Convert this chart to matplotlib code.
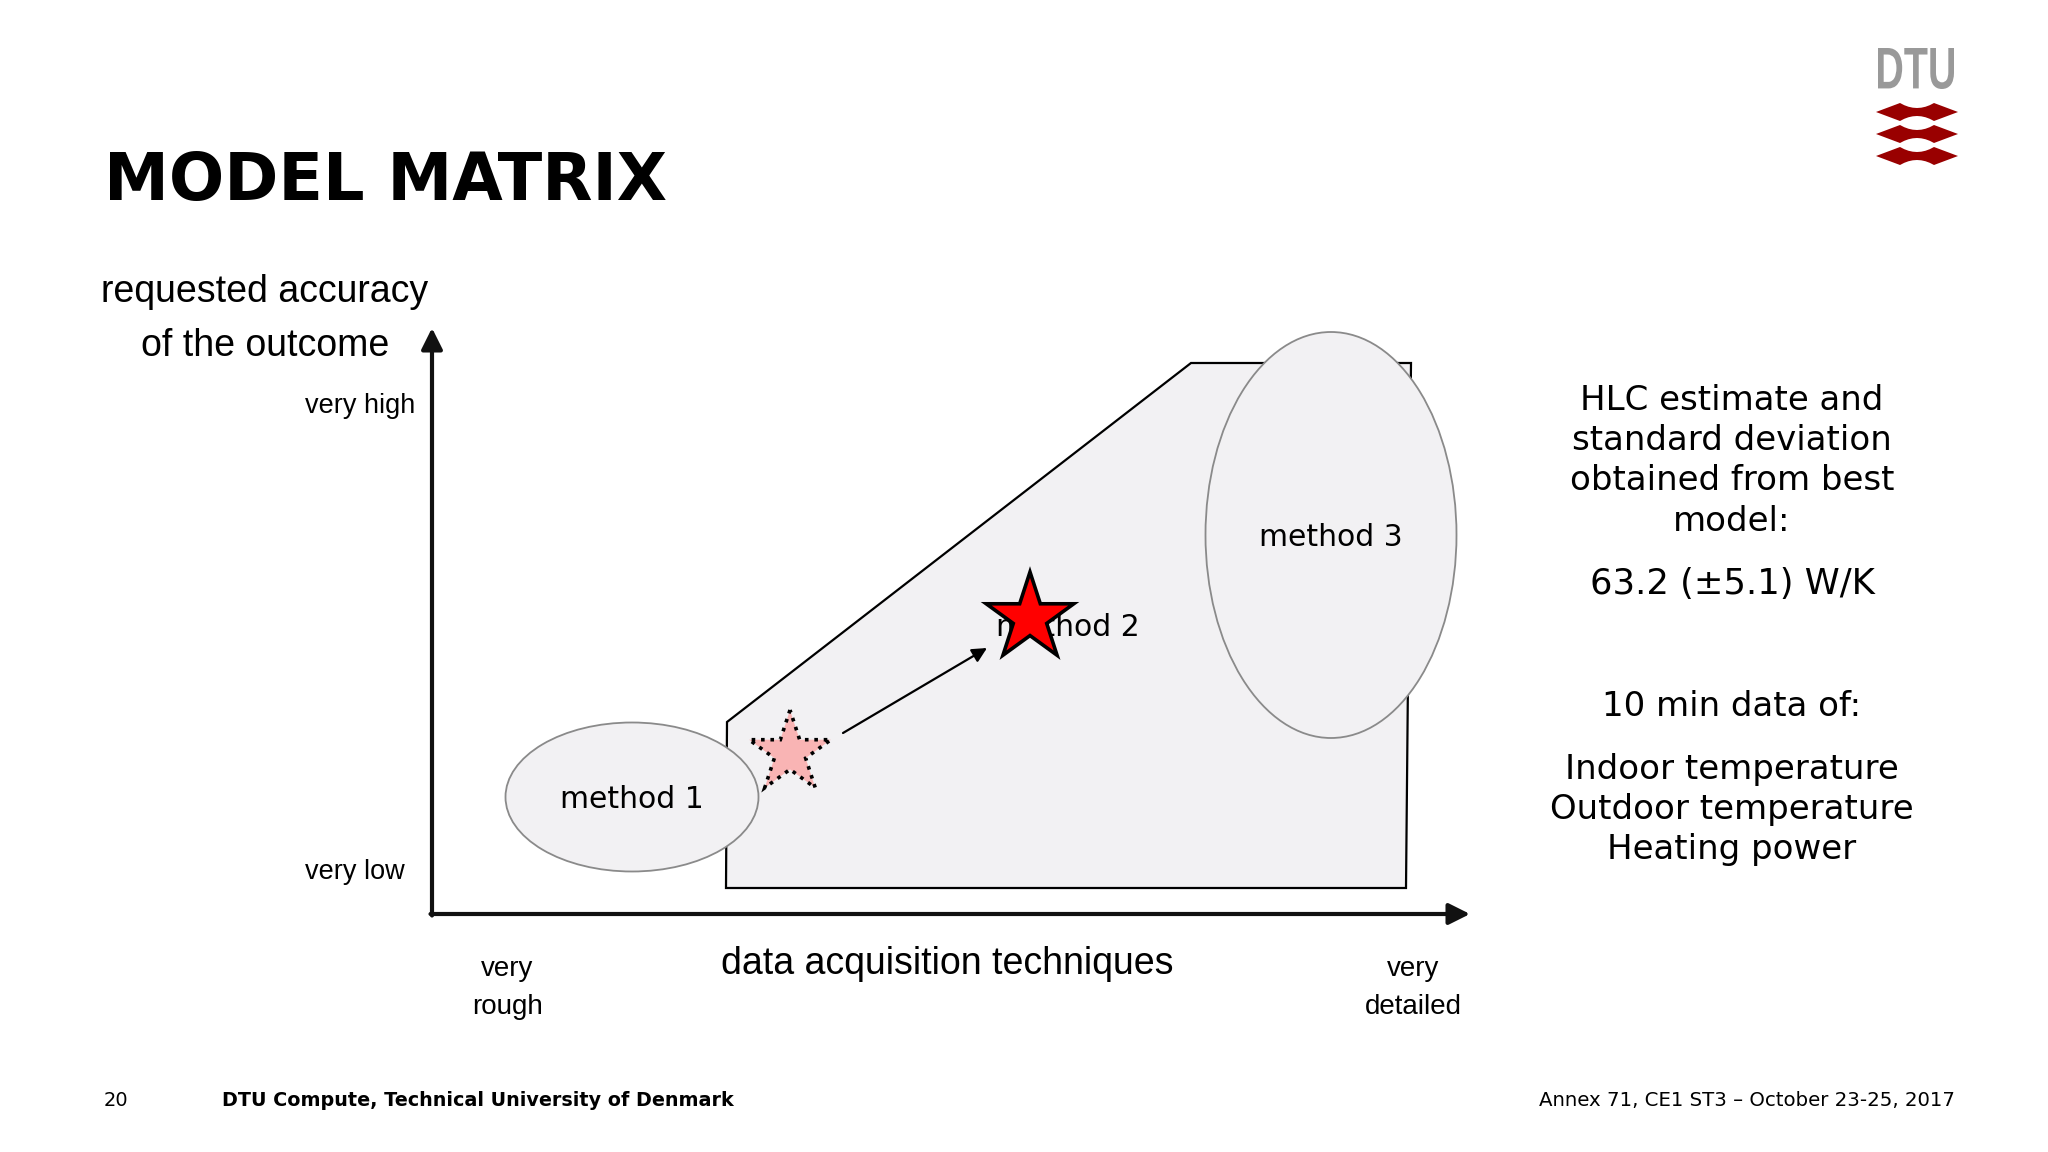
import numpy as np
import matplotlib
matplotlib.use("Agg")
import matplotlib.pyplot as plt
from matplotlib.patches import Polygon, Ellipse, PathPatch
from matplotlib.textpath import TextPath
from matplotlib.font_manager import FontProperties
from matplotlib.transforms import Affine2D

# slide canvas is laid out in pixel units (2048 x 1152)
W, H = 2048, 1152

# diagram content
region_xy = [(727, 722), (1191, 363), (1411, 363), (1406, 888), (726, 888)]
method_names = ["method 1", "method 2", "method 3"]
method_pos = [(632, 800), (1068, 627), (1331, 537)]
ellipse_centers = [(632, 797), (1331, 535)]
ellipse_sizes = [(253, 149), (251, 406)]
best_star = (1030, 618, 46)      # cx, cy, outer radius
start_star = (790, 753, 43)
arrow_from = (843, 733)
arrow_to = (987, 648)

axis_origin = (432, 914)
axis_x_end = 1470
axis_y_end = 328

y_label = ["requested accuracy", "of the outcome"]
y_ticks = ["very high", "very low"]
x_label = "data acquisition techniques"
x_ticks = ["very\nrough", "very\ndetailed"]

info_lines = ["HLC estimate and", "standard deviation", "obtained from best", "model:"]
estimate = "63.2 (\u00b15.1) W/K"
data_head = "10 min data of:"
data_lines = ["Indoor temperature", "Outdoor temperature", "Heating power"]

narrow = ["Liberation Sans Narrow", "Liberation Sans", "DejaVu Sans"]


def star(cx, cy, R, ratio=0.382):
    ang = np.pi / 2 + np.arange(10) * np.pi / 5
    rad = np.where(np.arange(10) % 2 == 0, R, R * ratio)
    return np.column_stack([cx + rad * np.cos(ang), cy - rad * np.sin(ang)])


fig = plt.figure(figsize=(20.48, 11.52), dpi=100)
ax = fig.add_axes([0, 0, 1, 1])
ax.set_xlim(0, W)
ax.set_ylim(H, 0)
ax.axis("off")

# title
ax.text(104, 182, "MODEL MATRIX", fontsize=47, fontweight="bold",
        family="DejaVu Sans", va="center", ha="left")

# DTU logo: condensed grey letters + three red bow shapes
tp = TextPath((0, 0), "DTU", size=100,
              prop=FontProperties(family=["Liberation Sans", "DejaVu Sans"], weight="bold"))
bb = tp.get_extents()
sx = 76 / bb.width
sy = 41 / bb.height
trans = Affine2D().translate(-bb.x0, -bb.y0).scale(sx, -sy).translate(1878, 89) + ax.transData
ax.add_patch(PathPatch(tp, fc="#999999", ec="none", transform=trans))

xs = np.linspace(-17, 17, 9)
waist = 4 + 5 * (xs / 17) ** 2
top = [(-41, 0)] + list(zip(xs, -waist)) + [(41, 0)]
bottom = list(zip(xs[::-1], waist[::-1]))
bow = np.array(top + bottom)
for yc in [112, 134, 156]:
    ax.add_patch(Polygon(bow + [1917, yc], closed=True, fc="#990000", ec="none"))

# shaded region and methods
ax.add_patch(Polygon(region_xy, closed=True, fc="#f2f1f3", ec="black", lw=1.6, zorder=2))
for (cx, cy), (w, h) in zip(ellipse_centers, ellipse_sizes):
    ax.add_patch(Ellipse((cx, cy), w, h, fc="#f2f1f3", ec="#8a8a8a", lw=1.3, zorder=3))
for name, (x, y) in zip(method_names, method_pos):
    ax.text(x, y, name, fontsize=21.5, family="DejaVu Sans", ha="center", va="center", zorder=4)

# stars and arrow
ax.add_patch(Polygon(star(*best_star), closed=True, fc="#ff0000", ec="black", lw=2.6, zorder=5))
ax.add_patch(Polygon(star(*start_star), closed=True, fc="#f9b4b4", ec="black", lw=2.6,
                     ls=(0, (1, 1.6)), zorder=5))
ax.annotate("", xy=arrow_to, xytext=arrow_from, zorder=6,
            arrowprops=dict(arrowstyle="-|>", color="black", lw=1.6, mutation_scale=22,
                            shrinkA=0, shrinkB=0))

# axes
ox, oy = axis_origin
ax.annotate("", xy=(axis_x_end, oy), xytext=(ox - 1.5, oy),
            arrowprops=dict(arrowstyle="-|>", color="#111111", lw=3, mutation_scale=32,
                            shrinkA=0, shrinkB=0))
ax.annotate("", xy=(ox, axis_y_end), xytext=(ox, oy + 1.5),
            arrowprops=dict(arrowstyle="-|>", color="#111111", lw=3, mutation_scale=32,
                            shrinkA=0, shrinkB=0))

ax.text(265, 292, y_label[0], fontsize=27, family=narrow, ha="center", va="center")
ax.text(265, 346, y_label[1], fontsize=27, family=narrow, ha="center", va="center")
ax.text(415, 406, y_ticks[0], fontsize=19.5, family=narrow, ha="right", va="center")
ax.text(405, 872, y_ticks[1], fontsize=19.5, family=narrow, ha="right", va="center")
ax.text(947, 964, x_label, fontsize=27, family=narrow, ha="center", va="center")
ax.text(507, 988, x_ticks[0], fontsize=20, family=narrow, ha="center", va="center",
        linespacing=1.6)
ax.text(1413, 988, x_ticks[1], fontsize=20, family=narrow, ha="center", va="center",
        linespacing=1.6)

# right-hand notes
for i, line in enumerate(info_lines):
    ax.text(1732, 400 + i * 40.5, line, fontsize=24.5, family="DejaVu Sans",
            ha="center", va="center")
ax.text(1732, 584, estimate, fontsize=25.5, family="DejaVu Sans", ha="center", va="center")
ax.text(1732, 707, data_head, fontsize=24.5, family="DejaVu Sans", ha="center", va="center")
for i, line in enumerate(data_lines):
    ax.text(1732, 769 + i * 40.5, line, fontsize=24.5, family="DejaVu Sans",
            ha="center", va="center")

# footer
ax.text(104, 1100, "20", fontsize=14, family="DejaVu Sans", ha="left", va="center")
ax.text(222, 1100, "DTU Compute, Technical University of Denmark", fontsize=13.8,
        fontweight="bold", family="DejaVu Sans", ha="left", va="center")
ax.text(1955, 1100, "Annex 71, CE1 ST3 \u2013 October 23-25, 2017", fontsize=14.2,
        family="DejaVu Sans", ha="right", va="center")

fig.savefig("out.png", dpi=100, facecolor="white")
